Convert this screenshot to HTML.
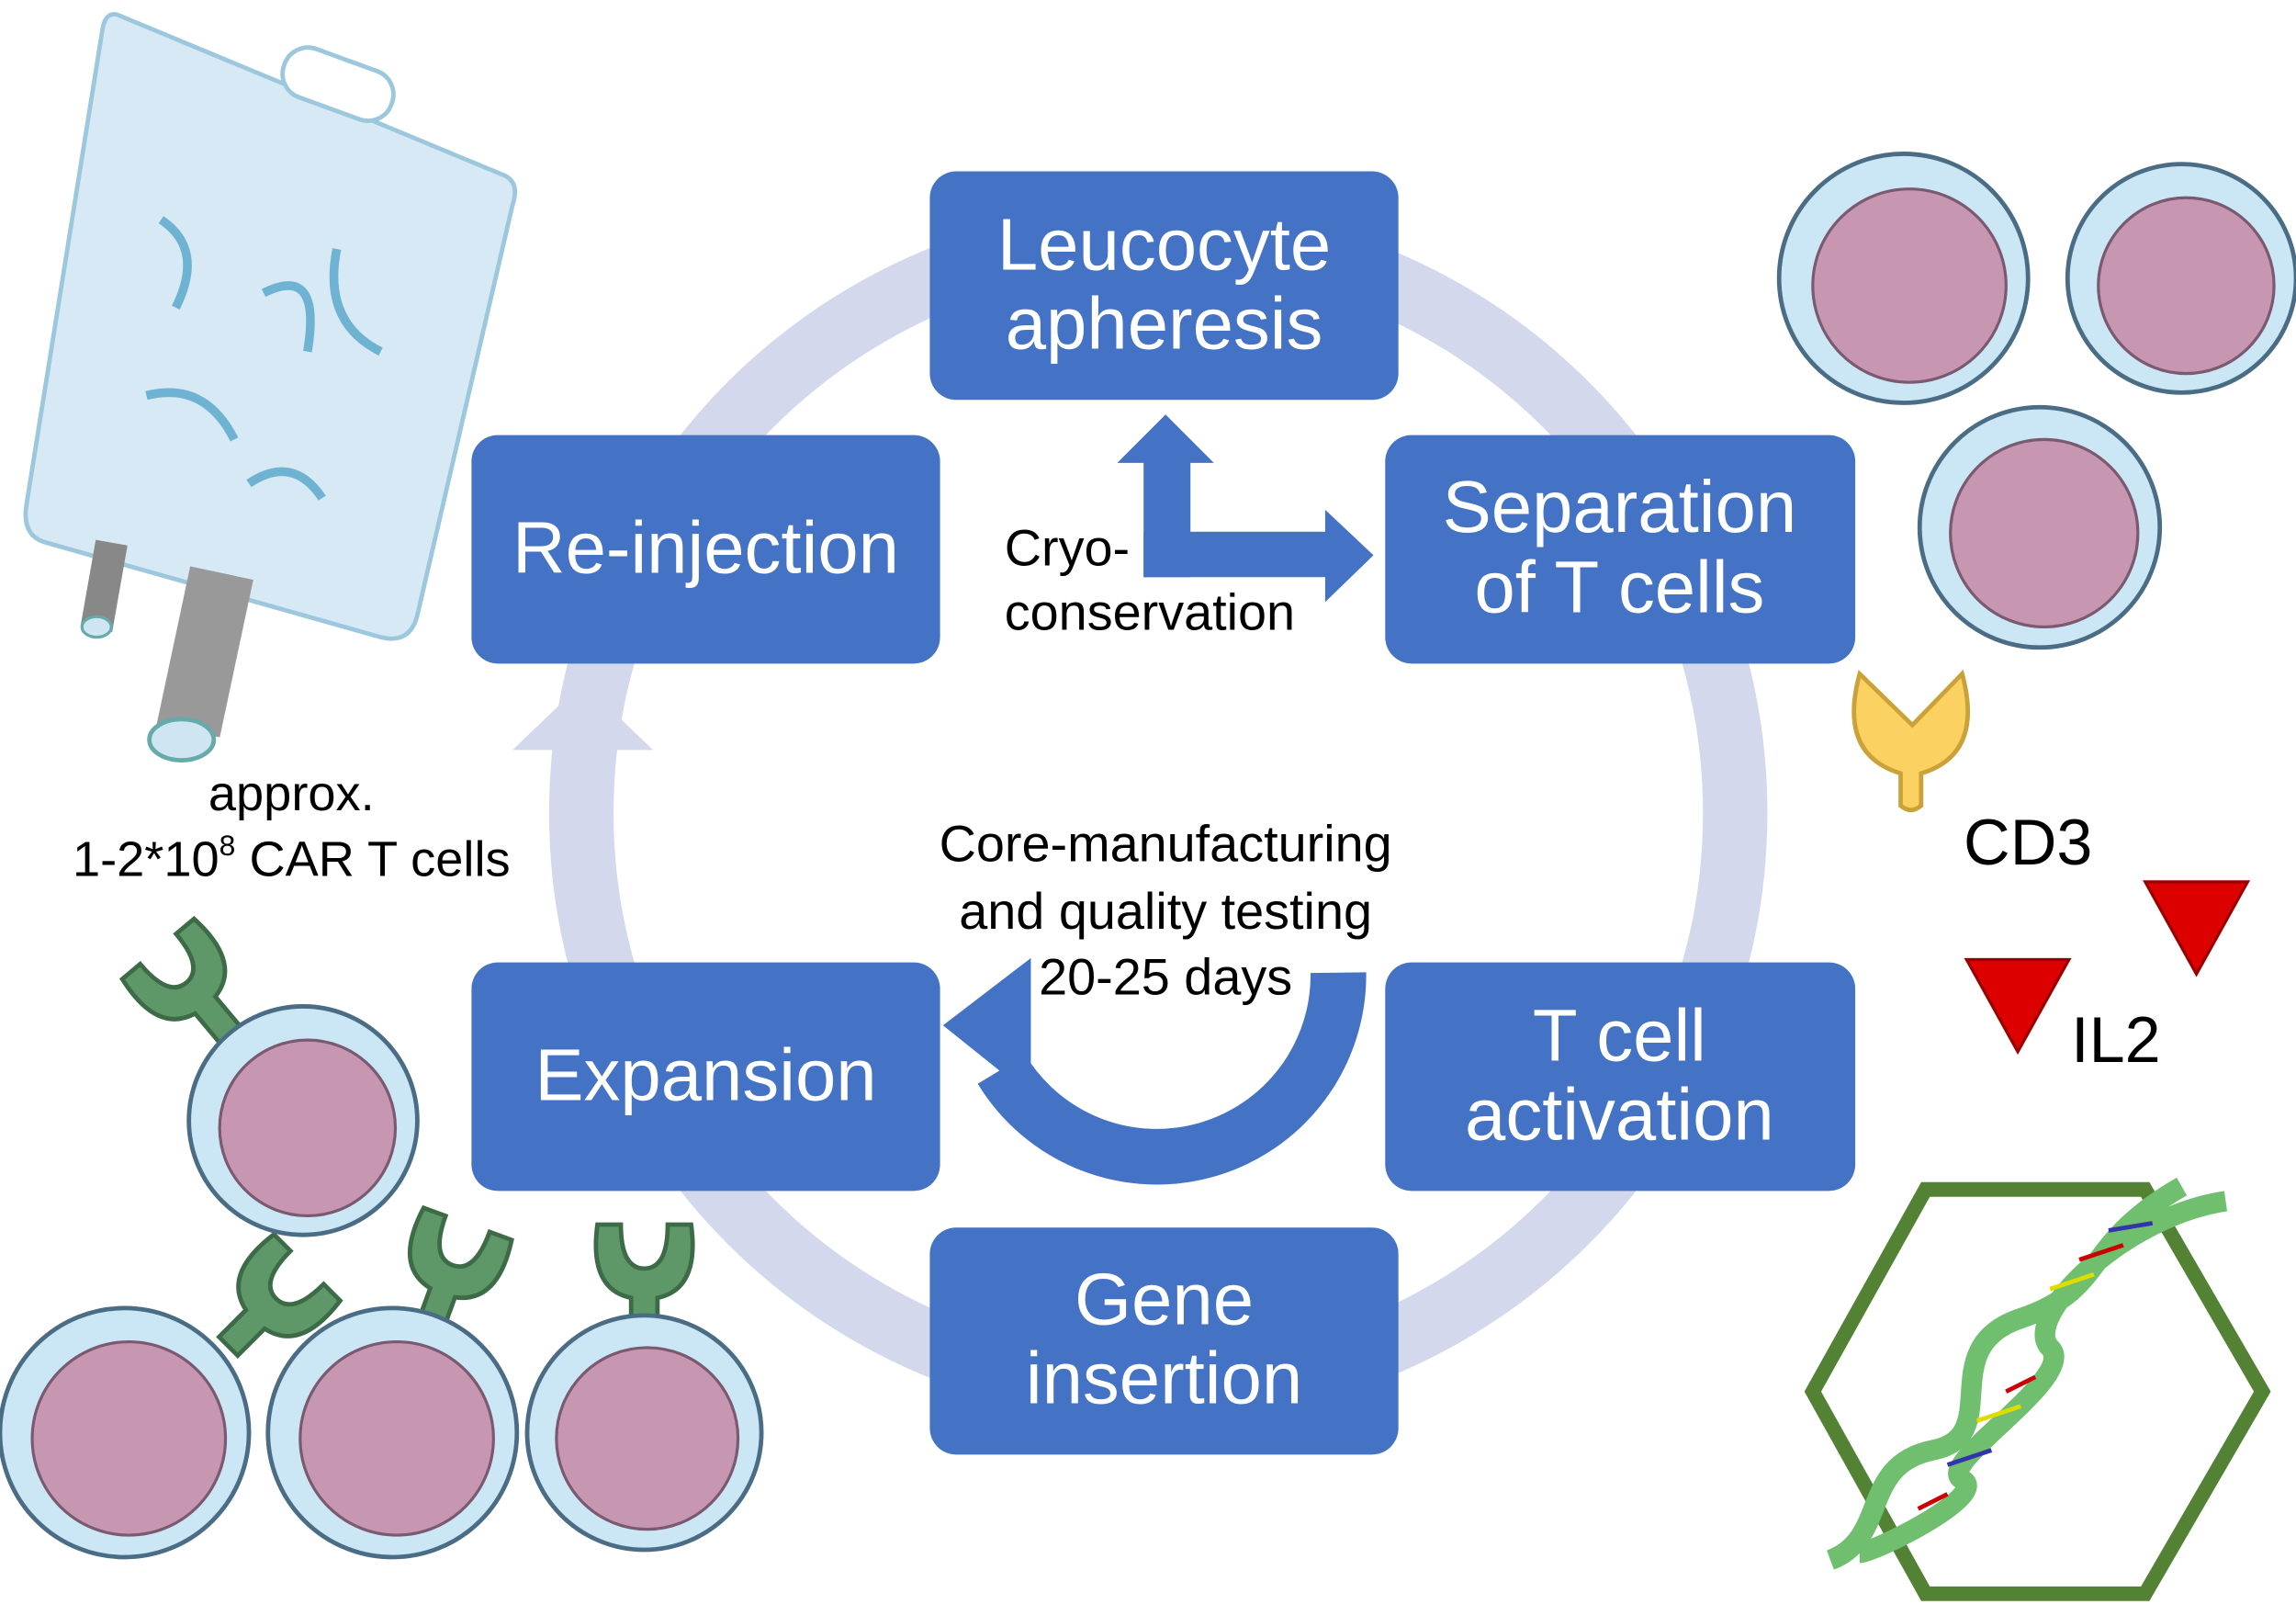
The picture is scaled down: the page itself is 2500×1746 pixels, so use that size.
<!DOCTYPE html>
<html><head><meta charset="utf-8"><style>
html,body{margin:0;padding:0;background:#fff;}
svg{display:block;}
text{font-family:"Liberation Sans",sans-serif;}
</style></head><body>
<svg width="2500" height="1746" viewBox="0 0 1568 1095" preserveAspectRatio="none" xmlns="http://www.w3.org/2000/svg">
<defs>
<path id="rc" d="M-32,-42 Q-38,2 -9,8 L-9,34 L9,34 L9,8 Q38,2 32,-42 L16,-42 Q16,-12 0,-12 Q-16,-12 -16,-42Z" fill="#5e9868" stroke="#3d6b47" stroke-width="3"/>
</defs>
<rect width="1568" height="1095" fill="#fff"/>
<!-- ring -->
<circle cx="791" cy="555" r="394" fill="none" stroke="#d3d8ec" stroke-width="44"/>
<polygon points="398,466 350,512 446,512" fill="#d3d8ec"/>
<!-- boxes -->
<g fill="#4472c4">
<rect x="635" y="117" width="320" height="156" rx="18"/>
<rect x="322" y="297" width="320" height="156" rx="18"/>
<rect x="946" y="297" width="321" height="156" rx="18"/>
<rect x="322" y="657" width="320" height="156" rx="18"/>
<rect x="946" y="657" width="321" height="156" rx="18"/>
<rect x="635" y="838" width="320" height="155" rx="18"/>
</g>
<g fill="#fff" font-size="50" text-anchor="middle">
<text x="795" y="184">Leucocyte</text><text x="795" y="238">apheresis</text>
<text x="482" y="391">Re-injection</text>
<text x="1106" y="363">Separation</text><text x="1106" y="418">of T cells</text>
<text x="482" y="751">Expansion</text>
<text x="1106" y="724">T cell</text><text x="1106" y="778">activation</text>
<text x="795" y="904">Gene</text><text x="795" y="958">insertion</text>
</g>
<!-- L arrow -->
<g fill="#4472c4">
<polygon points="796,283 763,316 829,316"/>
<rect x="781" y="314" width="32" height="80"/>
<rect x="781" y="363" width="126" height="31"/>
<polygon points="938,379 905,348 905,411"/>
</g>
<!-- curved arrow -->
<path d="M914,664 A124 124 0 0 1 684,730" fill="none" stroke="#4472c4" stroke-width="38"/>
<polygon points="644,700 704,654 704,748" fill="#4472c4"/>
<g font-size="35" fill="#000">
<text x="686" y="386">Cryo-</text><text x="686" y="430">conservation</text>
<text x="796" y="588" text-anchor="middle">Core-manufacturing</text>
<text x="796" y="634" text-anchor="middle">and quality testing</text>
<text x="796" y="679" text-anchor="middle">20-25 days</text>
</g>
<g font-size="34" fill="#000">
<text x="199" y="553" text-anchor="middle">approx.</text>
<text x="199" y="598" text-anchor="middle">1-2*10<tspan font-size="20" dy="-14">8</tspan><tspan dy="14"> CAR T cells</tspan></text>
</g>
<!-- IV bag -->
<g>
<path d="M80,10 L345,120 Q355,125 350,140 L285,420 Q280,440 260,435 L30,370 Q15,365 18,345 L70,20 Q72,8 80,10Z" fill="#d6e9f4" stroke="#9cc7dd" stroke-width="3"/>
<rect x="192" y="40" width="78" height="35" rx="17" transform="rotate(20 231 57)" fill="#fff" stroke="#9cc7dd" stroke-width="3"/>
<path d="M110,150 q30,20 10,60 M180,200 q40,-20 30,40 M230,170 q-10,50 30,70 M100,270 q40,-10 60,30 M170,330 q30,-20 50,10" fill="none" stroke="#6fb3d2" stroke-width="6"/>
<rect x="60" y="370" width="22" height="60" fill="#888" transform="rotate(10 71 400)"/>
<rect x="118" y="390" width="44" height="110" fill="#999" transform="rotate(12 140 445)"/>
<ellipse cx="124" cy="505" rx="22" ry="14" fill="#cfe6f2" stroke="#6aa" stroke-width="3"/>
<ellipse cx="66" cy="428" rx="10" ry="7" fill="#cfe6f2" stroke="#6aa" stroke-width="2"/>
</g>
<!-- receptors (behind cells) -->
<use href="#rc" transform="translate(135,680) rotate(-40)"/>
<use href="#rc" transform="translate(180,895) rotate(45)"/>
<use href="#rc" transform="translate(305,875) rotate(20)"/>
<use href="#rc" transform="translate(440,878)"/>
<!-- cells -->
<g stroke="#4a6d85" stroke-width="3">
<g fill="#cbe6f5"><circle cx="1300" cy="190" r="85"/><circle cx="1490" cy="190" r="78"/><circle cx="1393" cy="360" r="82"/>
<circle cx="207" cy="765" r="78"/><circle cx="85" cy="978" r="85"/><circle cx="268" cy="978" r="85"/><circle cx="440" cy="978" r="80"/></g>
<g fill="#c796b1" stroke="#7a5a70" stroke-width="2"><circle cx="1304" cy="195" r="66"/><circle cx="1493" cy="195" r="60"/><circle cx="1396" cy="364" r="64"/>
<circle cx="210" cy="770" r="60"/><circle cx="88" cy="982" r="66"/><circle cx="271" cy="982" r="66"/><circle cx="442" cy="982" r="62"/></g>
</g>
<!-- CD3 -->
<path d="M1270,460 q-15,55 28,68 l0,22 q7,6 14,0 l0,-22 q43,-13 28,-68 l-34,35 z" fill="#fbd262" stroke="#c9a33a" stroke-width="3"/>
<text x="1385" y="590" font-size="44" text-anchor="middle">CD3</text>
<polygon points="1465,602 1535,602 1500,665" fill="#d00" stroke="#900" stroke-width="2"/>
<polygon points="1343,655 1413,655 1378,718" fill="#d00" stroke="#900" stroke-width="2"/>
<text x="1445" y="725" font-size="44" text-anchor="middle">IL2</text>
<!-- hexagon + DNA -->
<polygon points="1315,812 1465,812 1545,950 1465,1088 1315,1088 1238,950" fill="none" stroke="#548235" stroke-width="10"/>
<g stroke="#6fbf6f" stroke-width="14" fill="none">
<path d="M1520,820 C1450,830 1380,900 1400,920 S1320,1000 1340,1010 S1280,1060 1270,1060"/>
<path d="M1490,810 C1420,850 1440,880 1380,900 S1370,980 1320,990 S1290,1050 1250,1065"/>
</g>
<g stroke="#c00" stroke-width="3"><line x1="1420" y1="860" x2="1450" y2="850"/><line x1="1370" y1="950" x2="1390" y2="940"/><line x1="1310" y1="1030" x2="1330" y2="1020"/></g>
<g stroke="#dd0" stroke-width="3"><line x1="1400" y1="880" x2="1430" y2="870"/><line x1="1350" y1="970" x2="1380" y2="960"/></g>
<g stroke="#33a" stroke-width="3"><line x1="1440" y1="840" x2="1470" y2="835"/><line x1="1330" y1="1000" x2="1360" y2="990"/></g>
</svg>
</body></html>
